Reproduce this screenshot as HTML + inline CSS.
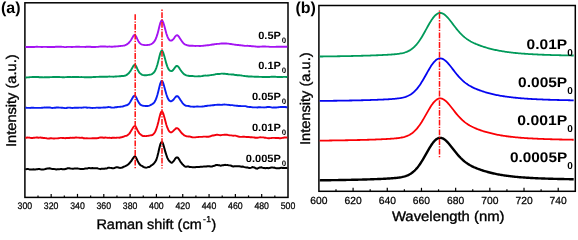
<!DOCTYPE html>
<html><head><meta charset="utf-8"><style>
html,body{margin:0;padding:0;background:#fff;overflow:hidden;width:578px;height:234px;}
svg{display:block;will-change:transform;}
text{font-family:"Liberation Sans",sans-serif;fill:#000;text-rendering:geometricPrecision;}
.tk{font-size:9.6px;stroke:#000;stroke-width:0.25px;}
.tkb{font-size:10.3px;stroke:#000;stroke-width:0.25px;}
.ax{font-size:14px;stroke:#000;stroke-width:0.35px;}
.sup{font-size:8.6px;stroke:#000;stroke-width:0.3px;}
.la{font-size:10.5px;font-weight:bold;}
.sa{font-size:7.9px;font-weight:bold;}
.lb{font-size:14px;font-weight:bold;}
.sb{font-size:10px;font-weight:bold;}
.pn{font-size:16px;font-weight:bold;}
</style></head><body>
<svg width="578" height="234" viewBox="0 0 578 234">
<rect width="578" height="234" fill="#fff"/>
<rect x="24.9" y="2.8" width="263.1" height="194.6" fill="none" stroke="#000" stroke-width="1.5"/>
<line x1="38.01" y1="197.40" x2="38.01" y2="195.40" stroke="#000" stroke-width="1.2"/>
<line x1="51.17" y1="197.40" x2="51.17" y2="193.90" stroke="#000" stroke-width="1.2"/>
<line x1="64.32" y1="197.40" x2="64.32" y2="195.40" stroke="#000" stroke-width="1.2"/>
<line x1="77.48" y1="197.40" x2="77.48" y2="193.90" stroke="#000" stroke-width="1.2"/>
<line x1="90.64" y1="197.40" x2="90.64" y2="195.40" stroke="#000" stroke-width="1.2"/>
<line x1="103.79" y1="197.40" x2="103.79" y2="193.90" stroke="#000" stroke-width="1.2"/>
<line x1="116.95" y1="197.40" x2="116.95" y2="195.40" stroke="#000" stroke-width="1.2"/>
<line x1="130.11" y1="197.40" x2="130.11" y2="193.90" stroke="#000" stroke-width="1.2"/>
<line x1="143.27" y1="197.40" x2="143.27" y2="195.40" stroke="#000" stroke-width="1.2"/>
<line x1="156.42" y1="197.40" x2="156.42" y2="193.90" stroke="#000" stroke-width="1.2"/>
<line x1="169.58" y1="197.40" x2="169.58" y2="195.40" stroke="#000" stroke-width="1.2"/>
<line x1="182.74" y1="197.40" x2="182.74" y2="193.90" stroke="#000" stroke-width="1.2"/>
<line x1="195.90" y1="197.40" x2="195.90" y2="195.40" stroke="#000" stroke-width="1.2"/>
<line x1="209.06" y1="197.40" x2="209.06" y2="193.90" stroke="#000" stroke-width="1.2"/>
<line x1="222.21" y1="197.40" x2="222.21" y2="195.40" stroke="#000" stroke-width="1.2"/>
<line x1="235.37" y1="197.40" x2="235.37" y2="193.90" stroke="#000" stroke-width="1.2"/>
<line x1="248.53" y1="197.40" x2="248.53" y2="195.40" stroke="#000" stroke-width="1.2"/>
<line x1="261.68" y1="197.40" x2="261.68" y2="193.90" stroke="#000" stroke-width="1.2"/>
<line x1="274.84" y1="197.40" x2="274.84" y2="195.40" stroke="#000" stroke-width="1.2"/>
<text x="24.85" y="208.8" class="tk" text-anchor="middle" textLength="14.6" lengthAdjust="spacingAndGlyphs">300</text>
<text x="51.17" y="208.8" class="tk" text-anchor="middle" textLength="14.6" lengthAdjust="spacingAndGlyphs">320</text>
<text x="77.48" y="208.8" class="tk" text-anchor="middle" textLength="14.6" lengthAdjust="spacingAndGlyphs">340</text>
<text x="103.79" y="208.8" class="tk" text-anchor="middle" textLength="14.6" lengthAdjust="spacingAndGlyphs">360</text>
<text x="130.11" y="208.8" class="tk" text-anchor="middle" textLength="14.6" lengthAdjust="spacingAndGlyphs">380</text>
<text x="156.42" y="208.8" class="tk" text-anchor="middle" textLength="14.6" lengthAdjust="spacingAndGlyphs">400</text>
<text x="182.74" y="208.8" class="tk" text-anchor="middle" textLength="14.6" lengthAdjust="spacingAndGlyphs">420</text>
<text x="209.06" y="208.8" class="tk" text-anchor="middle" textLength="14.6" lengthAdjust="spacingAndGlyphs">440</text>
<text x="235.37" y="208.8" class="tk" text-anchor="middle" textLength="14.6" lengthAdjust="spacingAndGlyphs">460</text>
<text x="261.68" y="208.8" class="tk" text-anchor="middle" textLength="14.6" lengthAdjust="spacingAndGlyphs">480</text>
<text x="288.00" y="208.8" class="tk" text-anchor="middle" textLength="14.6" lengthAdjust="spacingAndGlyphs">500</text>
<path d="M25.35 46.80L26.35 46.94L27.35 47.05L28.35 47.04L29.35 47.00L30.35 46.96L31.35 47.05L32.35 47.01L33.35 46.97L34.35 46.97L35.35 46.89L36.35 46.78L37.35 46.77L38.35 46.84L39.35 46.85L40.35 46.87L41.35 46.94L42.35 46.93L43.35 46.90L44.35 46.90L45.35 46.84L46.35 46.89L47.35 46.93L48.35 46.93L49.35 46.91L50.35 47.02L51.35 47.04L52.35 47.00L53.35 47.03L54.35 47.00L55.35 46.81L56.35 46.68L57.35 46.66L58.35 46.74L59.35 46.68L60.35 46.74L61.35 46.77L62.35 46.85L63.35 46.91L64.35 47.08L65.35 47.11L66.35 47.03L67.35 46.91L68.35 46.89L69.35 46.87L70.35 46.92L71.35 46.93L72.35 47.00L73.35 46.92L74.35 46.83L75.35 46.82L76.35 46.78L77.35 46.70L78.35 46.79L79.35 46.80L80.35 46.90L81.35 46.92L82.35 46.90L83.35 46.88L84.35 46.85L85.35 46.94L86.35 46.81L87.35 46.81L88.35 46.81L89.35 46.78L90.35 46.78L91.35 46.94L92.35 47.06L93.35 47.05L94.35 47.01L95.35 46.95L96.35 46.92L97.35 46.86L98.35 46.81L99.35 46.67L100.35 46.53L101.35 46.47L102.35 46.52L103.35 46.49L104.35 46.49L105.35 46.47L106.35 46.58L107.35 46.68L108.35 46.60L109.35 46.57L110.35 46.59L111.35 46.73L112.35 46.76L113.35 46.67L114.35 46.53L115.35 46.45L116.35 46.39L117.35 46.36L118.35 46.21L119.35 46.16L120.35 46.05L121.35 45.92L122.35 45.87L123.35 45.65L124.35 45.49L125.35 45.12L126.35 44.64L127.35 44.12L128.35 43.25L129.35 42.26L130.35 40.96L131.35 39.42L132.35 37.64L133.35 36.01L134.35 35.01L135.35 35.26L136.35 36.91L137.35 39.16L138.35 41.18L139.35 42.62L140.35 43.69L141.35 44.30L142.35 44.63L143.35 44.81L144.35 45.01L145.35 45.09L146.35 45.10L147.35 44.98L148.35 44.87L149.35 44.73L150.35 44.42L151.35 44.05L152.35 43.45L153.35 42.59L154.35 41.41L155.35 39.80L156.35 37.45L157.35 34.42L158.35 30.64L159.35 26.52L160.35 22.87L161.35 20.63L162.35 20.55L163.35 22.73L164.35 26.07L165.35 29.80L166.35 33.44L167.35 36.33L168.35 38.52L169.35 40.03L170.35 40.67L171.35 40.63L172.35 40.06L173.35 39.06L174.35 37.79L175.35 36.33L176.35 35.40L177.35 35.22L178.35 36.04L179.35 37.41L180.35 38.92L181.35 40.45L182.35 41.90L183.35 43.06L184.35 44.04L185.35 44.60L186.35 44.98L187.35 45.40L188.35 45.56L189.35 45.72L190.35 45.75L191.35 45.70L192.35 45.64L193.35 45.78L194.35 45.89L195.35 45.96L196.35 45.88L197.35 45.84L198.35 45.90L199.35 46.00L200.35 45.97L201.35 45.92L202.35 45.86L203.35 45.72L204.35 45.64L205.35 45.51L206.35 45.40L207.35 45.28L208.35 45.19L209.35 45.16L210.35 44.94L211.35 44.74L212.35 44.54L213.35 44.44L214.35 44.27L215.35 44.15L216.35 44.04L217.35 43.91L218.35 43.86L219.35 43.78L220.35 43.63L221.35 43.54L222.35 43.50L223.35 43.46L224.35 43.45L225.35 43.44L226.35 43.46L227.35 43.58L228.35 43.67L229.35 43.83L230.35 43.93L231.35 44.06L232.35 44.29L233.35 44.41L234.35 44.60L235.35 44.72L236.35 44.90L237.35 44.94L238.35 45.05L239.35 45.18L240.35 45.19L241.35 45.39L242.35 45.45L243.35 45.63L244.35 45.80L245.35 45.90L246.35 45.86L247.35 45.80L248.35 45.85L249.35 45.99L250.35 46.03L251.35 46.18L252.35 46.18L253.35 46.32L254.35 46.33L255.35 46.45L256.35 46.63L257.35 46.70L258.35 46.71L259.35 46.69L260.35 46.66L261.35 46.66L262.35 46.57L263.35 46.55L264.35 46.49L265.35 46.57L266.35 46.65L267.35 46.66L268.35 46.66L269.35 46.78L270.35 46.84L271.35 46.84L272.35 46.85L273.35 46.90L274.35 46.86L275.35 46.84L276.35 46.81L277.35 46.79L278.35 46.71L279.35 46.74L280.35 46.72L281.35 46.74L282.35 46.68L283.35 46.71L284.35 46.69L285.35 46.68L286.35 46.70L287.35 46.80" fill="none" stroke="#a414f2" stroke-width="1.9" stroke-linejoin="round"/>
<path d="M25.35 77.42L26.35 77.46L27.35 77.35L28.35 77.34L29.35 77.25L30.35 77.17L31.35 77.09L32.35 77.00L33.35 77.03L34.35 77.03L35.35 77.06L36.35 77.04L37.35 77.00L38.35 77.03L39.35 77.22L40.35 77.28L41.35 77.22L42.35 77.25L43.35 77.33L44.35 77.22L45.35 77.25L46.35 77.23L47.35 77.23L48.35 77.15L49.35 77.27L50.35 77.14L51.35 77.10L52.35 77.03L53.35 76.93L54.35 77.04L55.35 77.04L56.35 77.04L57.35 77.02L58.35 77.03L59.35 77.02L60.35 77.12L61.35 77.15L62.35 77.25L63.35 77.29L64.35 77.32L65.35 77.17L66.35 77.08L67.35 76.95L68.35 76.93L69.35 76.95L70.35 77.03L71.35 77.09L72.35 77.04L73.35 77.03L74.35 77.04L75.35 76.93L76.35 76.88L77.35 76.94L78.35 76.95L79.35 77.11L80.35 77.11L81.35 77.07L82.35 77.10L83.35 77.15L84.35 77.19L85.35 77.25L86.35 77.26L87.35 77.22L88.35 77.27L89.35 77.19L90.35 77.24L91.35 77.22L92.35 77.15L93.35 77.06L94.35 77.02L95.35 77.00L96.35 76.88L97.35 76.88L98.35 76.88L99.35 76.79L100.35 76.71L101.35 76.81L102.35 76.73L103.35 76.69L104.35 76.74L105.35 76.70L106.35 76.61L107.35 76.69L108.35 76.60L109.35 76.48L110.35 76.60L111.35 76.58L112.35 76.62L113.35 76.70L114.35 76.66L115.35 76.47L116.35 76.43L117.35 76.38L118.35 76.34L119.35 76.23L120.35 76.20L121.35 76.03L122.35 75.98L123.35 75.93L124.35 75.90L125.35 75.50L126.35 75.11L127.35 74.39L128.35 73.58L129.35 72.49L130.35 71.14L131.35 69.57L132.35 67.74L133.35 66.01L134.35 64.90L135.35 64.96L136.35 66.72L137.35 68.99L138.35 71.10L139.35 72.62L140.35 73.53L141.35 74.28L142.35 74.79L143.35 75.10L144.35 75.22L145.35 75.22L146.35 75.18L147.35 75.15L148.35 74.93L149.35 74.78L150.35 74.57L151.35 74.36L152.35 73.87L153.35 73.10L154.35 71.95L155.35 70.19L156.35 67.79L157.35 64.71L158.35 60.88L159.35 56.76L160.35 53.06L161.35 50.84L162.35 50.80L163.35 52.93L164.35 56.19L165.35 59.97L166.35 63.68L167.35 66.58L168.35 68.84L169.35 70.20L170.35 70.89L171.35 71.13L172.35 70.75L173.35 69.80L174.35 68.41L175.35 67.03L176.35 66.03L177.35 65.99L178.35 66.81L179.35 68.17L180.35 69.75L181.35 71.17L182.35 72.49L183.35 73.61L184.35 74.40L185.35 74.86L186.35 75.30L187.35 75.65L188.35 75.79L189.35 76.03L190.35 76.04L191.35 76.06L192.35 76.01L193.35 76.16L194.35 76.28L195.35 76.37L196.35 76.36L197.35 76.37L198.35 76.27L199.35 76.30L200.35 76.35L201.35 76.18L202.35 76.02L203.35 75.80L204.35 75.58L205.35 75.53L206.35 75.58L207.35 75.56L208.35 75.46L209.35 75.41L210.35 75.17L211.35 75.06L212.35 74.90L213.35 74.77L214.35 74.61L215.35 74.31L216.35 74.16L217.35 74.00L218.35 73.94L219.35 73.94L220.35 73.85L221.35 73.66L222.35 73.65L223.35 73.71L224.35 73.78L225.35 73.82L226.35 73.96L227.35 73.96L228.35 74.22L229.35 74.33L230.35 74.36L231.35 74.44L232.35 74.52L233.35 74.50L234.35 74.75L235.35 74.97L236.35 75.05L237.35 75.24L238.35 75.30L239.35 75.26L240.35 75.40L241.35 75.43L242.35 75.67L243.35 75.87L244.35 76.01L245.35 76.16L246.35 76.26L247.35 76.30L248.35 76.51L249.35 76.46L250.35 76.40L251.35 76.44L252.35 76.53L253.35 76.59L254.35 76.68L255.35 76.70L256.35 76.77L257.35 76.76L258.35 76.80L259.35 76.92L260.35 76.91L261.35 76.90L262.35 77.01L263.35 76.94L264.35 77.01L265.35 77.07L266.35 76.99L267.35 76.99L268.35 77.00L269.35 77.03L270.35 76.87L271.35 76.77L272.35 76.75L273.35 76.78L274.35 76.77L275.35 76.73L276.35 76.83L277.35 76.96L278.35 76.96L279.35 77.04L280.35 77.06L281.35 77.06L282.35 77.07L283.35 76.90L284.35 76.86L285.35 76.85L286.35 76.96L287.35 77.18" fill="none" stroke="#00985a" stroke-width="1.9" stroke-linejoin="round"/>
<path d="M25.35 107.73L26.35 107.76L27.35 107.87L28.35 107.86L29.35 107.92L30.35 107.93L31.35 107.72L32.35 107.62L33.35 107.73L34.35 107.90L35.35 107.84L36.35 107.88L37.35 107.92L38.35 107.86L39.35 107.85L40.35 107.83L41.35 107.82L42.35 107.77L43.35 107.59L44.35 107.49L45.35 107.57L46.35 107.42L47.35 107.47L48.35 107.53L49.35 107.48L50.35 107.57L51.35 107.88L52.35 107.94L53.35 107.89L54.35 107.82L55.35 107.76L56.35 107.55L57.35 107.53L58.35 107.52L59.35 107.64L60.35 107.60L61.35 107.70L62.35 107.70L63.35 107.86L64.35 108.06L65.35 108.15L66.35 108.00L67.35 107.78L68.35 107.61L69.35 107.67L70.35 107.68L71.35 107.89L72.35 108.03L73.35 107.89L74.35 107.79L75.35 107.81L76.35 107.75L77.35 107.79L78.35 107.72L79.35 107.66L80.35 107.67L81.35 107.78L82.35 107.62L83.35 107.48L84.35 107.40L85.35 107.40L86.35 107.48L87.35 107.71L88.35 107.67L89.35 107.58L90.35 107.80L91.35 107.92L92.35 108.02L93.35 107.90L94.35 107.91L95.35 107.85L96.35 107.62L97.35 107.66L98.35 107.73L99.35 107.75L100.35 107.73L101.35 107.65L102.35 107.59L103.35 107.52L104.35 107.43L105.35 107.50L106.35 107.34L107.35 107.30L108.35 107.04L109.35 107.16L110.35 107.28L111.35 107.49L112.35 107.61L113.35 107.61L114.35 107.46L115.35 107.20L116.35 107.22L117.35 107.05L118.35 106.92L119.35 106.86L120.35 106.72L121.35 106.58L122.35 106.51L123.35 106.26L124.35 105.91L125.35 105.56L126.35 105.42L127.35 105.00L128.35 104.41L129.35 103.28L130.35 101.77L131.35 100.08L132.35 98.31L133.35 96.54L134.35 95.65L135.35 95.94L136.35 97.66L137.35 99.94L138.35 101.82L139.35 103.48L140.35 104.68L141.35 105.21L142.35 105.57L143.35 105.75L144.35 105.90L145.35 105.95L146.35 105.98L147.35 106.05L148.35 105.82L149.35 105.57L150.35 105.20L151.35 104.69L152.35 104.02L153.35 103.40L154.35 102.33L155.35 100.52L156.35 98.21L157.35 95.06L158.35 91.22L159.35 87.05L160.35 83.33L161.35 81.07L162.35 81.16L163.35 83.41L164.35 86.98L165.35 90.74L166.35 94.31L167.35 97.26L168.35 99.37L169.35 100.68L170.35 101.25L171.35 101.22L172.35 100.70L173.35 99.83L174.35 98.51L175.35 97.26L176.35 96.29L177.35 96.12L178.35 96.86L179.35 98.24L180.35 99.87L181.35 101.34L182.35 102.82L183.35 104.01L184.35 104.87L185.35 105.49L186.35 105.87L187.35 105.91L188.35 106.05L189.35 106.20L190.35 106.47L191.35 106.67L192.35 106.66L193.35 106.78L194.35 106.76L195.35 106.58L196.35 106.51L197.35 106.41L198.35 106.55L199.35 106.60L200.35 106.67L201.35 106.63L202.35 106.52L203.35 106.43L204.35 106.28L205.35 106.05L206.35 106.00L207.35 105.76L208.35 105.62L209.35 105.64L210.35 105.45L211.35 105.32L212.35 105.21L213.35 105.27L214.35 105.05L215.35 104.84L216.35 104.88L217.35 104.67L218.35 104.76L219.35 104.78L220.35 104.82L221.35 104.83L222.35 104.70L223.35 104.67L224.35 104.47L225.35 104.59L226.35 104.67L227.35 104.83L228.35 104.82L229.35 105.00L230.35 105.18L231.35 105.09L232.35 105.17L233.35 105.34L234.35 105.57L235.35 105.62L236.35 105.70L237.35 105.80L238.35 105.94L239.35 106.06L240.35 106.06L241.35 106.12L242.35 106.12L243.35 106.08L244.35 106.10L245.35 106.11L246.35 106.39L247.35 106.78L248.35 106.91L249.35 107.05L250.35 107.01L251.35 107.16L252.35 107.29L253.35 107.34L254.35 107.33L255.35 107.33L256.35 107.38L257.35 107.48L258.35 107.29L259.35 107.15L260.35 107.23L261.35 107.34L262.35 107.34L263.35 107.34L264.35 107.43L265.35 107.32L266.35 107.20L267.35 107.06L268.35 107.06L269.35 107.04L270.35 107.12L271.35 107.37L272.35 107.60L273.35 107.50L274.35 107.51L275.35 107.40L276.35 107.44L277.35 107.41L278.35 107.26L279.35 107.14L280.35 107.01L281.35 107.07L282.35 107.05L283.35 106.95L284.35 106.94L285.35 106.96L286.35 107.21L287.35 107.30" fill="none" stroke="#0a1ef2" stroke-width="1.9" stroke-linejoin="round"/>
<path d="M25.35 137.73L26.35 137.71L27.35 137.54L28.35 137.58L29.35 137.56L30.35 137.84L31.35 138.03L32.35 138.02L33.35 137.82L34.35 137.74L35.35 137.64L36.35 137.56L37.35 137.55L38.35 137.75L39.35 137.57L40.35 137.45L41.35 137.71L42.35 137.79L43.35 138.05L44.35 138.00L45.35 138.14L46.35 138.24L47.35 138.44L48.35 138.57L49.35 138.50L50.35 138.28L51.35 138.19L52.35 138.37L53.35 138.47L54.35 138.52L55.35 138.34L56.35 138.35L57.35 138.39L58.35 138.23L59.35 138.10L60.35 137.88L61.35 137.88L62.35 137.97L63.35 137.93L64.35 138.17L65.35 138.26L66.35 137.93L67.35 138.02L68.35 138.04L69.35 137.97L70.35 137.69L71.35 137.83L72.35 137.62L73.35 137.81L74.35 137.79L75.35 137.55L76.35 137.46L77.35 137.59L78.35 137.65L79.35 137.77L80.35 137.90L81.35 137.73L82.35 137.73L83.35 138.20L84.35 138.17L85.35 138.39L86.35 138.20L87.35 138.32L88.35 138.36L89.35 138.42L90.35 138.33L91.35 138.39L92.35 138.18L93.35 138.24L94.35 138.14L95.35 138.29L96.35 138.31L97.35 138.19L98.35 138.01L99.35 137.61L100.35 137.35L101.35 137.48L102.35 137.53L103.35 137.71L104.35 137.71L105.35 137.54L106.35 137.59L107.35 137.82L108.35 137.86L109.35 137.67L110.35 137.87L111.35 137.97L112.35 137.76L113.35 137.79L114.35 137.75L115.35 137.88L116.35 137.76L117.35 137.63L118.35 137.62L119.35 137.75L120.35 137.46L121.35 137.22L122.35 137.02L123.35 136.75L124.35 136.28L125.35 135.92L126.35 135.75L127.35 135.38L128.35 134.48L129.35 133.61L130.35 132.11L131.35 130.45L132.35 128.84L133.35 127.12L134.35 126.16L135.35 126.08L136.35 127.87L137.35 129.94L138.35 131.83L139.35 133.37L140.35 134.35L141.35 135.11L142.35 135.75L143.35 136.10L144.35 136.05L145.35 136.08L146.35 136.05L147.35 135.87L148.35 135.75L149.35 135.56L150.35 135.35L151.35 135.23L152.35 135.09L153.35 134.22L154.35 133.08L155.35 131.44L156.35 128.96L157.35 125.82L158.35 121.95L159.35 117.64L160.35 113.99L161.35 111.60L162.35 111.72L163.35 113.69L164.35 117.23L165.35 121.08L166.35 124.70L167.35 127.73L168.35 129.92L169.35 131.54L170.35 132.19L171.35 132.34L172.35 131.76L173.35 130.88L174.35 129.82L175.35 128.97L176.35 128.08L177.35 128.20L178.35 128.80L179.35 130.04L180.35 131.38L181.35 132.79L182.35 133.73L183.35 134.59L184.35 135.43L185.35 135.78L186.35 136.22L187.35 136.38L188.35 136.50L189.35 136.52L190.35 136.61L191.35 137.04L192.35 137.25L193.35 137.33L194.35 137.34L195.35 137.36L196.35 137.08L197.35 137.08L198.35 136.97L199.35 136.87L200.35 136.90L201.35 136.86L202.35 136.91L203.35 136.62L204.35 136.64L205.35 136.61L206.35 136.68L207.35 136.72L208.35 136.79L209.35 136.50L210.35 136.32L211.35 135.82L212.35 135.51L213.35 135.45L214.35 135.31L215.35 135.03L216.35 134.81L217.35 134.71L218.35 134.85L219.35 135.14L220.35 135.27L221.35 135.09L222.35 134.90L223.35 134.90L224.35 134.70L225.35 134.71L226.35 134.67L227.35 134.80L228.35 135.06L229.35 135.26L230.35 135.37L231.35 135.38L232.35 135.65L233.35 135.72L234.35 135.63L235.35 135.59L236.35 135.94L237.35 136.21L238.35 136.54L239.35 136.79L240.35 136.92L241.35 136.87L242.35 136.76L243.35 136.57L244.35 136.71L245.35 136.88L246.35 137.03L247.35 136.97L248.35 137.02L249.35 137.07L250.35 137.30L251.35 137.13L252.35 137.26L253.35 137.35L254.35 137.47L255.35 137.78L256.35 137.74L257.35 137.78L258.35 137.59L259.35 137.41L260.35 137.28L261.35 137.35L262.35 137.36L263.35 137.36L264.35 137.70L265.35 137.64L266.35 137.91L267.35 138.07L268.35 138.19L269.35 138.18L270.35 138.17L271.35 138.06L272.35 137.92L273.35 137.83L274.35 137.91L275.35 138.00L276.35 138.01L277.35 138.00L278.35 137.94L279.35 138.23L280.35 138.28L281.35 138.10L282.35 137.85L283.35 137.81L284.35 137.51L285.35 137.47L286.35 137.56L287.35 137.66" fill="none" stroke="#f2000c" stroke-width="1.9" stroke-linejoin="round"/>
<path d="M25.35 168.85L26.35 169.15L27.35 169.06L28.35 169.11L29.35 169.39L30.35 169.47L31.35 169.58L32.35 169.39L33.35 169.30L34.35 169.43L35.35 169.41L36.35 169.32L37.35 169.30L38.35 169.09L39.35 169.03L40.35 169.29L41.35 169.43L42.35 169.40L43.35 169.38L44.35 169.30L45.35 169.07L46.35 168.74L47.35 168.56L48.35 168.41L49.35 168.21L50.35 168.49L51.35 168.75L52.35 168.90L53.35 168.92L54.35 169.12L55.35 169.17L56.35 169.42L57.35 169.25L58.35 169.16L59.35 169.16L60.35 169.09L61.35 168.90L62.35 169.22L63.35 169.31L64.35 169.34L65.35 169.00L66.35 168.83L67.35 168.35L68.35 168.23L69.35 168.18L70.35 168.47L71.35 168.63L72.35 168.83L73.35 168.64L74.35 168.61L75.35 168.58L76.35 168.57L77.35 168.37L78.35 168.62L79.35 168.84L80.35 168.90L81.35 169.03L82.35 169.08L83.35 168.90L84.35 168.81L85.35 168.54L86.35 168.56L87.35 168.45L88.35 168.09L89.35 168.09L90.35 168.19L91.35 168.30L92.35 168.09L93.35 168.27L94.35 168.26L95.35 168.32L96.35 168.23L97.35 168.30L98.35 168.62L99.35 168.89L100.35 169.14L101.35 168.82L102.35 168.65L103.35 168.66L104.35 168.74L105.35 168.54L106.35 168.47L107.35 168.21L108.35 167.70L109.35 167.76L110.35 167.88L111.35 168.03L112.35 168.20L113.35 168.24L114.35 167.94L115.35 167.58L116.35 167.21L117.35 167.31L118.35 167.46L119.35 167.75L120.35 167.89L121.35 167.63L122.35 167.58L123.35 166.86L124.35 166.50L125.35 166.12L126.35 165.70L127.35 164.94L128.35 164.39L129.35 163.29L130.35 162.02L131.35 160.98L132.35 159.33L133.35 157.82L134.35 156.53L135.35 156.46L136.35 158.14L137.35 160.40L138.35 162.28L139.35 163.96L140.35 165.02L141.35 165.60L142.35 166.10L143.35 166.83L144.35 167.27L145.35 167.57L146.35 167.63L147.35 167.39L148.35 167.04L149.35 167.00L150.35 166.18L151.35 165.39L152.35 164.80L153.35 164.08L154.35 162.91L155.35 161.64L156.35 159.68L157.35 156.44L158.35 152.49L159.35 148.08L160.35 144.19L161.35 142.22L162.35 142.18L163.35 144.66L164.35 148.26L165.35 151.91L166.35 155.00L167.35 157.90L168.35 159.76L169.35 161.10L170.35 161.99L171.35 162.73L172.35 162.43L173.35 161.37L174.35 160.03L175.35 158.40L176.35 157.51L177.35 157.38L178.35 158.16L179.35 159.85L180.35 161.63L181.35 162.79L182.35 164.15L183.35 165.07L184.35 166.13L185.35 166.74L186.35 166.71L187.35 166.61L188.35 166.49L189.35 166.97L190.35 166.94L191.35 167.12L192.35 167.17L193.35 167.28L194.35 167.25L195.35 167.25L196.35 166.91L197.35 167.07L198.35 166.91L199.35 166.92L200.35 166.80L201.35 166.68L202.35 166.68L203.35 166.58L204.35 166.43L205.35 166.51L206.35 166.50L207.35 166.23L208.35 166.17L209.35 166.16L210.35 166.41L211.35 166.54L212.35 166.40L213.35 165.93L214.35 165.80L215.35 165.32L216.35 165.02L217.35 165.00L218.35 165.14L219.35 165.30L220.35 165.65L221.35 165.45L222.35 165.22L223.35 165.25L224.35 164.91L225.35 164.85L226.35 165.12L227.35 164.90L228.35 165.22L229.35 165.38L230.35 165.56L231.35 165.78L232.35 166.25L233.35 166.53L234.35 166.22L235.35 166.19L236.35 166.23L237.35 166.32L238.35 166.29L239.35 166.20L240.35 166.40L241.35 166.70L242.35 166.58L243.35 166.70L244.35 167.12L245.35 167.35L246.35 167.51L247.35 167.37L248.35 167.71L249.35 167.97L250.35 167.92L251.35 167.58L252.35 167.03L253.35 167.30L254.35 167.46L255.35 168.05L256.35 168.62L257.35 168.63L258.35 168.02L259.35 167.52L260.35 167.47L261.35 167.23L262.35 167.62L263.35 167.93L264.35 168.05L265.35 168.26L266.35 168.09L267.35 168.07L268.35 168.21L269.35 168.07L270.35 167.72L271.35 167.56L272.35 167.47L273.35 167.63L274.35 167.62L275.35 167.99L276.35 168.21L277.35 168.35L278.35 168.20L279.35 168.23L280.35 167.91L281.35 167.65L282.35 167.92L283.35 167.85L284.35 168.08L285.35 168.07L286.35 168.08L287.35 167.73" fill="none" stroke="#000000" stroke-width="2.0" stroke-linejoin="round"/>
<line x1="135.2" y1="13.0" x2="135.2" y2="169.3" stroke="#ff1010" stroke-width="1.5" stroke-dasharray="5.8 1.3 1.3 1.3" stroke-dashoffset="8.4"/>
<line x1="162.0" y1="9.2" x2="162.0" y2="168.5" stroke="#ff1010" stroke-width="1.5" stroke-dasharray="5.8 1.3 1.3 1.3" stroke-dashoffset="6.7"/>
<text x="258.2" y="38.9" class="la" textLength="22.7" lengthAdjust="spacingAndGlyphs">0.5P</text>
<text x="281.7" y="42.9" class="sa">0</text>
<text x="258.2" y="69.2" class="la" textLength="22.7" lengthAdjust="spacingAndGlyphs">0.1P</text>
<text x="281.7" y="73.2" class="sa">0</text>
<text x="251.9" y="99.9" class="la" textLength="29.0" lengthAdjust="spacingAndGlyphs">0.05P</text>
<text x="281.7" y="103.9" class="sa">0</text>
<text x="251.9" y="131.0" class="la" textLength="29.0" lengthAdjust="spacingAndGlyphs">0.01P</text>
<text x="281.7" y="135.0" class="sa">0</text>
<text x="245.8" y="161.7" class="la" textLength="35.1" lengthAdjust="spacingAndGlyphs">0.005P</text>
<text x="281.7" y="165.7" class="sa">0</text>
<text x="0" y="0" class="ax" transform="translate(15.6,147.0) rotate(-90)" textLength="92.6" lengthAdjust="spacingAndGlyphs">Intensity (a.u.)</text>
<text x="96.4" y="228.7" class="ax" textLength="105.3" lengthAdjust="spacingAndGlyphs">Raman shift (cm</text>
<text x="202.9" y="222.3" class="sup">-</text>
<text x="206.2" y="222.3" class="sup">1</text>
<text x="211.4" y="228.7" class="ax">)</text>
<text x="1" y="13.1" class="pn">(a)</text>
<rect x="318.9" y="5.5" width="256.4" height="185.8" fill="none" stroke="#000" stroke-width="1.5"/>
<line x1="335.99" y1="191.30" x2="335.99" y2="189.30" stroke="#000" stroke-width="1.2"/>
<line x1="353.09" y1="191.30" x2="353.09" y2="187.80" stroke="#000" stroke-width="1.2"/>
<line x1="370.18" y1="191.30" x2="370.18" y2="189.30" stroke="#000" stroke-width="1.2"/>
<line x1="387.27" y1="191.30" x2="387.27" y2="187.80" stroke="#000" stroke-width="1.2"/>
<line x1="404.37" y1="191.30" x2="404.37" y2="189.30" stroke="#000" stroke-width="1.2"/>
<line x1="421.46" y1="191.30" x2="421.46" y2="187.80" stroke="#000" stroke-width="1.2"/>
<line x1="438.55" y1="191.30" x2="438.55" y2="189.30" stroke="#000" stroke-width="1.2"/>
<line x1="455.65" y1="191.30" x2="455.65" y2="187.80" stroke="#000" stroke-width="1.2"/>
<line x1="472.74" y1="191.30" x2="472.74" y2="189.30" stroke="#000" stroke-width="1.2"/>
<line x1="489.83" y1="191.30" x2="489.83" y2="187.80" stroke="#000" stroke-width="1.2"/>
<line x1="506.93" y1="191.30" x2="506.93" y2="189.30" stroke="#000" stroke-width="1.2"/>
<line x1="524.02" y1="191.30" x2="524.02" y2="187.80" stroke="#000" stroke-width="1.2"/>
<line x1="541.11" y1="191.30" x2="541.11" y2="189.30" stroke="#000" stroke-width="1.2"/>
<line x1="558.21" y1="191.30" x2="558.21" y2="187.80" stroke="#000" stroke-width="1.2"/>
<text x="318.90" y="203.6" class="tkb" text-anchor="middle">600</text>
<text x="353.09" y="203.6" class="tkb" text-anchor="middle">620</text>
<text x="387.27" y="203.6" class="tkb" text-anchor="middle">640</text>
<text x="421.46" y="203.6" class="tkb" text-anchor="middle">660</text>
<text x="455.65" y="203.6" class="tkb" text-anchor="middle">680</text>
<text x="489.83" y="203.6" class="tkb" text-anchor="middle">700</text>
<text x="524.02" y="203.6" class="tkb" text-anchor="middle">720</text>
<text x="558.21" y="203.6" class="tkb" text-anchor="middle">740</text>
<path d="M319.70 56.51L320.70 56.50L321.70 56.49L322.70 56.48L323.70 56.46L324.70 56.45L325.70 56.44L326.70 56.43L327.70 56.41L328.70 56.40L329.70 56.39L330.70 56.37L331.70 56.36L332.70 56.34L333.70 56.33L334.70 56.31L335.70 56.30L336.70 56.28L337.70 56.27L338.70 56.25L339.70 56.23L340.70 56.22L341.70 56.20L342.70 56.18L343.70 56.17L344.70 56.15L345.70 56.13L346.70 56.11L347.70 56.09L348.70 56.07L349.70 56.05L350.70 56.03L351.70 56.01L352.70 55.99L353.70 55.96L354.70 55.94L355.70 55.92L356.70 55.90L357.70 55.87L358.70 55.85L359.70 55.82L360.70 55.80L361.70 55.77L362.70 55.74L363.70 55.71L364.70 55.68L365.70 55.66L366.70 55.63L367.70 55.59L368.70 55.56L369.70 55.53L370.70 55.50L371.70 55.46L372.70 55.43L373.70 55.39L374.70 55.35L375.70 55.31L376.70 55.27L377.70 55.23L378.70 55.19L379.70 55.15L380.70 55.10L381.70 55.06L382.70 55.01L383.70 54.96L384.70 54.91L385.70 54.86L386.70 54.80L387.70 54.74L388.70 54.68L389.70 54.62L390.70 54.55L391.70 54.48L392.70 54.40L393.70 54.32L394.70 54.23L395.70 54.13L396.70 54.02L397.70 53.90L398.70 53.77L399.70 53.62L400.70 53.45L401.70 53.26L402.70 53.04L403.70 52.79L404.70 52.51L405.70 52.18L406.70 51.81L407.70 51.39L408.70 50.91L409.70 50.37L410.70 49.76L411.70 49.07L412.70 48.30L413.70 47.44L414.70 46.49L415.70 45.45L416.70 44.31L417.70 43.07L418.70 41.73L419.70 40.30L420.70 38.78L421.70 37.18L422.70 35.50L423.70 33.77L424.70 31.99L425.70 30.18L426.70 28.36L427.70 26.55L428.70 24.77L429.70 23.04L430.70 21.39L431.70 19.83L432.70 18.39L433.70 17.09L434.70 15.95L435.70 14.98L436.70 14.19L437.70 13.59L438.70 13.19L439.70 12.99L440.70 12.99L441.70 13.17L442.70 13.53L443.70 14.06L444.70 14.75L445.70 15.58L446.70 16.53L447.70 17.60L448.70 18.75L449.70 19.97L450.70 21.24L451.70 22.55L452.70 23.88L453.70 25.20L454.70 26.52L455.70 27.81L456.70 29.07L457.70 30.29L458.70 31.47L459.70 32.59L460.70 33.66L461.70 34.67L462.70 35.62L463.70 36.52L464.70 37.36L465.70 38.15L466.70 38.89L467.70 39.58L468.70 40.23L469.70 40.84L470.70 41.42L471.70 41.96L472.70 42.47L473.70 42.96L474.70 43.42L475.70 43.87L476.70 44.29L477.70 44.70L478.70 45.09L479.70 45.46L480.70 45.82L481.70 46.17L482.70 46.51L483.70 46.84L484.70 47.15L485.70 47.46L486.70 47.75L487.70 48.04L488.70 48.31L489.70 48.58L490.70 48.84L491.70 49.09L492.70 49.33L493.70 49.56L494.70 49.79L495.70 50.00L496.70 50.21L497.70 50.41L498.70 50.61L499.70 50.80L500.70 50.98L501.70 51.15L502.70 51.32L503.70 51.48L504.70 51.63L505.70 51.78L506.70 51.93L507.70 52.06L508.70 52.20L509.70 52.33L510.70 52.45L511.70 52.57L512.70 52.68L513.70 52.79L514.70 52.90L515.70 53.00L516.70 53.10L517.70 53.19L518.70 53.28L519.70 53.37L520.70 53.46L521.70 53.54L522.70 53.62L523.70 53.69L524.70 53.76L525.70 53.84L526.70 53.90L527.70 53.97L528.70 54.03L529.70 54.09L530.70 54.15L531.70 54.21L532.70 54.27L533.70 54.32L534.70 54.37L535.70 54.42L536.70 54.47L537.70 54.52L538.70 54.56L539.70 54.61L540.70 54.65L541.70 54.69L542.70 54.73L543.70 54.77L544.70 54.80L545.70 54.84L546.70 54.87L547.70 54.91L548.70 54.94L549.70 54.97L550.70 55.00L551.70 55.03L552.70 55.06L553.70 55.09L554.70 55.12L555.70 55.14L556.70 55.17L557.70 55.20L558.70 55.22L559.70 55.24L560.70 55.27L561.70 55.29L562.70 55.31L563.70 55.33L564.70 55.35L565.70 55.37L566.70 55.39L567.70 55.41L568.70 55.43L569.70 55.44L570.70 55.46L571.70 55.48L572.70 55.49L573.70 55.51" fill="none" stroke="#009a5a" stroke-width="1.8" stroke-linejoin="round"/>
<path d="M319.70 100.93L320.70 100.92L321.70 100.91L322.70 100.90L323.70 100.88L324.70 100.87L325.70 100.86L326.70 100.85L327.70 100.84L328.70 100.83L329.70 100.82L330.70 100.80L331.70 100.79L332.70 100.78L333.70 100.77L334.70 100.75L335.70 100.74L336.70 100.73L337.70 100.71L338.70 100.70L339.70 100.68L340.70 100.67L341.70 100.65L342.70 100.64L343.70 100.62L344.70 100.61L345.70 100.59L346.70 100.57L347.70 100.55L348.70 100.54L349.70 100.52L350.70 100.50L351.70 100.48L352.70 100.46L353.70 100.44L354.70 100.42L355.70 100.40L356.70 100.38L357.70 100.35L358.70 100.33L359.70 100.31L360.70 100.28L361.70 100.26L362.70 100.23L363.70 100.21L364.70 100.18L365.70 100.15L366.70 100.13L367.70 100.10L368.70 100.07L369.70 100.04L370.70 100.01L371.70 99.97L372.70 99.94L373.70 99.91L374.70 99.87L375.70 99.84L376.70 99.80L377.70 99.76L378.70 99.72L379.70 99.68L380.70 99.64L381.70 99.59L382.70 99.55L383.70 99.50L384.70 99.45L385.70 99.40L386.70 99.35L387.70 99.29L388.70 99.23L389.70 99.17L390.70 99.11L391.70 99.04L392.70 98.96L393.70 98.88L394.70 98.80L395.70 98.70L396.70 98.60L397.70 98.48L398.70 98.35L399.70 98.21L400.70 98.04L401.70 97.85L402.70 97.64L403.70 97.40L404.70 97.12L405.70 96.80L406.70 96.44L407.70 96.03L408.70 95.56L409.70 95.03L410.70 94.43L411.70 93.76L412.70 93.00L413.70 92.16L414.70 91.23L415.70 90.21L416.70 89.09L417.70 87.88L418.70 86.57L419.70 85.16L420.70 83.67L421.70 82.10L422.70 80.46L423.70 78.76L424.70 77.01L425.70 75.24L426.70 73.45L427.70 71.68L428.70 69.93L429.70 68.23L430.70 66.61L431.70 65.09L432.70 63.68L433.70 62.40L434.70 61.28L435.70 60.33L436.70 59.55L437.70 58.97L438.70 58.58L439.70 58.39L440.70 58.38L441.70 58.56L442.70 58.92L443.70 59.44L444.70 60.12L445.70 60.93L446.70 61.87L447.70 62.92L448.70 64.05L449.70 65.25L450.70 66.50L451.70 67.79L452.70 69.09L453.70 70.39L454.70 71.69L455.70 72.96L456.70 74.20L457.70 75.40L458.70 76.55L459.70 77.65L460.70 78.70L461.70 79.70L462.70 80.63L463.70 81.51L464.70 82.34L465.70 83.12L466.70 83.84L467.70 84.53L468.70 85.17L469.70 85.77L470.70 86.33L471.70 86.87L472.70 87.38L473.70 87.86L474.70 88.31L475.70 88.75L476.70 89.17L477.70 89.57L478.70 89.95L479.70 90.32L480.70 90.68L481.70 91.02L482.70 91.35L483.70 91.68L484.70 91.99L485.70 92.29L486.70 92.58L487.70 92.86L488.70 93.13L489.70 93.40L490.70 93.65L491.70 93.90L492.70 94.14L493.70 94.37L494.70 94.59L495.70 94.80L496.70 95.01L497.70 95.21L498.70 95.40L499.70 95.59L500.70 95.77L501.70 95.94L502.70 96.10L503.70 96.26L504.70 96.42L505.70 96.57L506.70 96.71L507.70 96.84L508.70 96.98L509.70 97.10L510.70 97.23L511.70 97.34L512.70 97.46L513.70 97.57L514.70 97.67L515.70 97.77L516.70 97.87L517.70 97.97L518.70 98.06L519.70 98.15L520.70 98.23L521.70 98.31L522.70 98.39L523.70 98.47L524.70 98.54L525.70 98.61L526.70 98.68L527.70 98.75L528.70 98.81L529.70 98.87L530.70 98.93L531.70 98.99L532.70 99.04L533.70 99.10L534.70 99.15L535.70 99.20L536.70 99.25L537.70 99.30L538.70 99.34L539.70 99.39L540.70 99.43L541.70 99.47L542.70 99.51L543.70 99.55L544.70 99.59L545.70 99.63L546.70 99.66L547.70 99.70L548.70 99.73L549.70 99.76L550.70 99.80L551.70 99.83L552.70 99.86L553.70 99.89L554.70 99.91L555.70 99.94L556.70 99.97L557.70 99.99L558.70 100.02L559.70 100.04L560.70 100.07L561.70 100.09L562.70 100.11L563.70 100.14L564.70 100.16L565.70 100.18L566.70 100.20L567.70 100.22L568.70 100.24L569.70 100.26L570.70 100.28L571.70 100.29L572.70 100.31L573.70 100.33" fill="none" stroke="#0505f0" stroke-width="1.8" stroke-linejoin="round"/>
<path d="M319.70 140.63L320.70 140.62L321.70 140.61L322.70 140.60L323.70 140.59L324.70 140.58L325.70 140.56L326.70 140.55L327.70 140.54L328.70 140.53L329.70 140.51L330.70 140.50L331.70 140.49L332.70 140.47L333.70 140.46L334.70 140.45L335.70 140.43L336.70 140.42L337.70 140.40L338.70 140.39L339.70 140.37L340.70 140.35L341.70 140.34L342.70 140.32L343.70 140.30L344.70 140.29L345.70 140.27L346.70 140.25L347.70 140.23L348.70 140.21L349.70 140.19L350.70 140.17L351.70 140.15L352.70 140.13L353.70 140.11L354.70 140.09L355.70 140.07L356.70 140.05L357.70 140.02L358.70 140.00L359.70 139.98L360.70 139.95L361.70 139.92L362.70 139.90L363.70 139.87L364.70 139.84L365.70 139.82L366.70 139.79L367.70 139.76L368.70 139.73L369.70 139.70L370.70 139.66L371.70 139.63L372.70 139.60L373.70 139.56L374.70 139.53L375.70 139.49L376.70 139.45L377.70 139.41L378.70 139.37L379.70 139.33L380.70 139.29L381.70 139.24L382.70 139.20L383.70 139.15L384.70 139.10L385.70 139.05L386.70 138.99L387.70 138.94L388.70 138.88L389.70 138.82L390.70 138.75L391.70 138.68L392.70 138.61L393.70 138.53L394.70 138.44L395.70 138.35L396.70 138.24L397.70 138.12L398.70 138.00L399.70 137.85L400.70 137.69L401.70 137.50L402.70 137.29L403.70 137.05L404.70 136.77L405.70 136.46L406.70 136.10L407.70 135.69L408.70 135.23L409.70 134.70L410.70 134.11L411.70 133.44L412.70 132.69L413.70 131.86L414.70 130.94L415.70 129.93L416.70 128.82L417.70 127.62L418.70 126.32L419.70 124.93L420.70 123.46L421.70 121.91L422.70 120.28L423.70 118.60L424.70 116.87L425.70 115.12L426.70 113.35L427.70 111.60L428.70 109.87L429.70 108.19L430.70 106.59L431.70 105.08L432.70 103.68L433.70 102.42L434.70 101.31L435.70 100.37L436.70 99.60L437.70 99.03L438.70 98.64L439.70 98.45L440.70 98.44L441.70 98.62L442.70 98.97L443.70 99.48L444.70 100.15L445.70 100.96L446.70 101.88L447.70 102.92L448.70 104.03L449.70 105.22L450.70 106.45L451.70 107.72L452.70 109.01L453.70 110.30L454.70 111.58L455.70 112.83L456.70 114.06L457.70 115.24L458.70 116.38L459.70 117.47L460.70 118.50L461.70 119.48L462.70 120.41L463.70 121.28L464.70 122.09L465.70 122.86L466.70 123.58L467.70 124.25L468.70 124.88L469.70 125.47L470.70 126.03L471.70 126.56L472.70 127.06L473.70 127.53L474.70 127.98L475.70 128.41L476.70 128.82L477.70 129.22L478.70 129.60L479.70 129.96L480.70 130.31L481.70 130.65L482.70 130.98L483.70 131.30L484.70 131.60L485.70 131.90L486.70 132.19L487.70 132.46L488.70 132.73L489.70 132.99L490.70 133.24L491.70 133.49L492.70 133.72L493.70 133.95L494.70 134.16L495.70 134.37L496.70 134.58L497.70 134.77L498.70 134.96L499.70 135.14L500.70 135.32L501.70 135.49L502.70 135.65L503.70 135.81L504.70 135.96L505.70 136.10L506.70 136.24L507.70 136.38L508.70 136.51L509.70 136.63L510.70 136.75L511.70 136.87L512.70 136.98L513.70 137.08L514.70 137.19L515.70 137.29L516.70 137.38L517.70 137.47L518.70 137.56L519.70 137.65L520.70 137.73L521.70 137.81L522.70 137.89L523.70 137.96L524.70 138.03L525.70 138.10L526.70 138.17L527.70 138.23L528.70 138.29L529.70 138.35L530.70 138.41L531.70 138.47L532.70 138.52L533.70 138.57L534.70 138.62L535.70 138.67L536.70 138.72L537.70 138.77L538.70 138.81L539.70 138.85L540.70 138.89L541.70 138.93L542.70 138.97L543.70 139.01L544.70 139.05L545.70 139.08L546.70 139.12L547.70 139.15L548.70 139.18L549.70 139.21L550.70 139.24L551.70 139.27L552.70 139.30L553.70 139.33L554.70 139.36L555.70 139.38L556.70 139.41L557.70 139.43L558.70 139.46L559.70 139.48L560.70 139.50L561.70 139.52L562.70 139.54L563.70 139.56L564.70 139.58L565.70 139.60L566.70 139.62L567.70 139.64L568.70 139.66L569.70 139.68L570.70 139.69L571.70 139.71L572.70 139.73L573.70 139.74" fill="none" stroke="#fa0005" stroke-width="1.8" stroke-linejoin="round"/>
<path d="M319.70 180.33L320.70 180.32L321.70 180.31L322.70 180.29L323.70 180.28L324.70 180.27L325.70 180.26L326.70 180.24L327.70 180.23L328.70 180.22L329.70 180.20L330.70 180.19L331.70 180.17L332.70 180.16L333.70 180.14L334.70 180.13L335.70 180.11L336.70 180.10L337.70 180.08L338.70 180.07L339.70 180.05L340.70 180.03L341.70 180.02L342.70 180.00L343.70 179.98L344.70 179.96L345.70 179.94L346.70 179.92L347.70 179.91L348.70 179.89L349.70 179.87L350.70 179.84L351.70 179.82L352.70 179.80L353.70 179.78L354.70 179.76L355.70 179.73L356.70 179.71L357.70 179.69L358.70 179.66L359.70 179.64L360.70 179.61L361.70 179.59L362.70 179.56L363.70 179.53L364.70 179.50L365.70 179.47L366.70 179.44L367.70 179.41L368.70 179.38L369.70 179.35L370.70 179.32L371.70 179.28L372.70 179.25L373.70 179.21L374.70 179.17L375.70 179.14L376.70 179.10L377.70 179.06L378.70 179.02L379.70 178.97L380.70 178.93L381.70 178.88L382.70 178.84L383.70 178.79L384.70 178.74L385.70 178.69L386.70 178.63L387.70 178.57L388.70 178.51L389.70 178.45L390.70 178.38L391.70 178.31L392.70 178.24L393.70 178.16L394.70 178.07L395.70 177.97L396.70 177.87L397.70 177.75L398.70 177.62L399.70 177.47L400.70 177.31L401.70 177.12L402.70 176.90L403.70 176.66L404.70 176.38L405.70 176.07L406.70 175.71L407.70 175.30L408.70 174.83L409.70 174.30L410.70 173.70L411.70 173.03L412.70 172.28L413.70 171.44L414.70 170.52L415.70 169.50L416.70 168.39L417.70 167.18L418.70 165.88L419.70 164.48L420.70 163.00L421.70 161.44L422.70 159.80L423.70 158.11L424.70 156.38L425.70 154.61L426.70 152.84L427.70 151.07L428.70 149.34L429.70 147.65L430.70 146.04L431.70 144.52L432.70 143.12L433.70 141.85L434.70 140.74L435.70 139.79L436.70 139.02L437.70 138.43L438.70 138.05L439.70 137.85L440.70 137.85L441.70 138.02L442.70 138.37L443.70 138.89L444.70 139.56L445.70 140.37L446.70 141.30L447.70 142.34L448.70 143.46L449.70 144.65L450.70 145.89L451.70 147.16L452.70 148.45L453.70 149.75L454.70 151.03L455.70 152.29L456.70 153.52L457.70 154.71L458.70 155.85L459.70 156.95L460.70 157.99L461.70 158.97L462.70 159.90L463.70 160.77L464.70 161.59L465.70 162.36L466.70 163.08L467.70 163.76L468.70 164.39L469.70 164.98L470.70 165.54L471.70 166.07L472.70 166.57L473.70 167.05L474.70 167.50L475.70 167.93L476.70 168.34L477.70 168.74L478.70 169.12L479.70 169.48L480.70 169.84L481.70 170.18L482.70 170.51L483.70 170.82L484.70 171.13L485.70 171.43L486.70 171.71L487.70 171.99L488.70 172.26L489.70 172.52L490.70 172.77L491.70 173.02L492.70 173.25L493.70 173.48L494.70 173.70L495.70 173.91L496.70 174.11L497.70 174.31L498.70 174.49L499.70 174.68L500.70 174.85L501.70 175.02L502.70 175.18L503.70 175.34L504.70 175.49L505.70 175.64L506.70 175.77L507.70 175.91L508.70 176.04L509.70 176.16L510.70 176.28L511.70 176.40L512.70 176.51L513.70 176.61L514.70 176.72L515.70 176.82L516.70 176.91L517.70 177.00L518.70 177.09L519.70 177.18L520.70 177.26L521.70 177.34L522.70 177.41L523.70 177.49L524.70 177.56L525.70 177.63L526.70 177.69L527.70 177.76L528.70 177.82L529.70 177.88L530.70 177.94L531.70 177.99L532.70 178.04L533.70 178.10L534.70 178.15L535.70 178.19L536.70 178.24L537.70 178.29L538.70 178.33L539.70 178.37L540.70 178.41L541.70 178.45L542.70 178.49L543.70 178.53L544.70 178.56L545.70 178.60L546.70 178.63L547.70 178.66L548.70 178.69L549.70 178.73L550.70 178.76L551.70 178.78L552.70 178.81L553.70 178.84L554.70 178.86L555.70 178.89L556.70 178.91L557.70 178.94L558.70 178.96L559.70 178.98L560.70 179.01L561.70 179.03L562.70 179.05L563.70 179.07L564.70 179.09L565.70 179.11L566.70 179.12L567.70 179.14L568.70 179.16L569.70 179.18L570.70 179.19L571.70 179.21L572.70 179.22L573.70 179.24" fill="none" stroke="#000000" stroke-width="2.4" stroke-linejoin="round"/>
<line x1="439.5" y1="9.2" x2="439.5" y2="158.5" stroke="#ff1010" stroke-width="1.5" stroke-dasharray="5.8 1.3 1.3 1.3" stroke-dashoffset="5.9"/>
<text x="526.6" y="48.6" class="lb" textLength="40.6" lengthAdjust="spacingAndGlyphs">0.01P</text>
<text x="567.3" y="55.6" class="sb">0</text>
<text x="518.1" y="86.6" class="lb" textLength="49.1" lengthAdjust="spacingAndGlyphs">0.005P</text>
<text x="567.3" y="93.6" class="sb">0</text>
<text x="517.3" y="124.5" class="lb" textLength="49.9" lengthAdjust="spacingAndGlyphs">0.001P</text>
<text x="567.3" y="131.5" class="sb">0</text>
<text x="510.0" y="162.1" class="lb" textLength="57.2" lengthAdjust="spacingAndGlyphs">0.0005P</text>
<text x="567.3" y="169.1" class="sb">0</text>
<text x="0" y="0" class="ax" transform="translate(310,145.0) rotate(-90)" textLength="92.6" lengthAdjust="spacingAndGlyphs">Intensity (a.u.)</text>
<text x="391.9" y="220.8" class="ax" textLength="112.6" lengthAdjust="spacingAndGlyphs">Wavelength (nm)</text>
<text x="295.5" y="13.1" class="pn">(b)</text>
</svg>
</body></html>
